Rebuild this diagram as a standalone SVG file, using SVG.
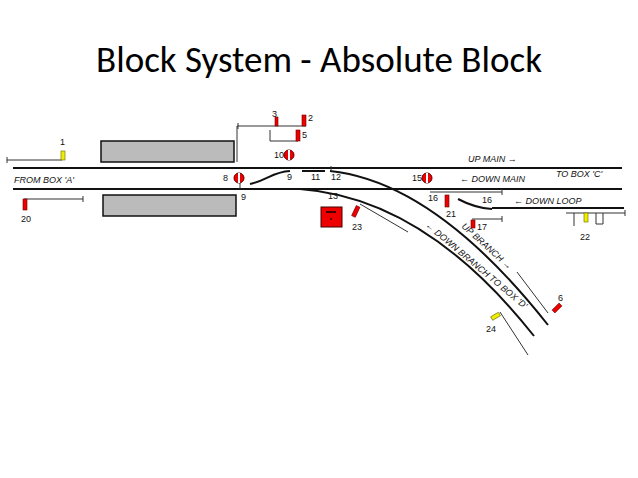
<svg xmlns="http://www.w3.org/2000/svg" width="638" height="478" viewBox="0 0 638 478">
<style>
.t{stroke:#111;stroke-width:2;fill:none}
.th{stroke:#333;stroke-width:1;fill:none}
.l{font-family:"Liberation Sans",Arial,sans-serif;font-size:9px;fill:#111;font-style:italic}
.n{font-family:"Liberation Sans",Arial,sans-serif;font-size:9px;fill:#111}
.r{fill:#e00;stroke:#600;stroke-width:.6}
.y{fill:#ee0;stroke:#660;stroke-width:.6}
.p{fill:#bbb;stroke:#111;stroke-width:1.5}
</style>
<rect width="638" height="478" fill="#fff"/>
<text x="319" y="72" text-anchor="middle" font-family="Carlito,'Open Sans','Liberation Sans',sans-serif" font-size="37" fill="#000">Block System - Absolute Block</text>
<g id="connectors">
<path class="t" d="M13,168H622M13,189H622"/>
<path class="t" d="M330,171 Q435,182 548,325"/>
<path class="t" d="M300,189 Q425,198 534,336"/>
<path class="t" d="M250,184 C268,180 272,172 290,171"/>
<path class="t" d="M302,171H325"/>
<path class="t" d="M492,208H624"/>
<path class="t" d="M458,199 Q475,208 492,209"/>
<path class="th" d="M7,160H62M7,157V163M24,199H83M83,196V202M237,126H306M237,126V162M238,123V129M270,141H298M270,130V141M360,204L408,232M440,192H502M502,189V195M430,192H440M472,219H502M502,216V222M517,272L548,313M500,312L528,355M566,213H625M625,210V216M331,166V171M240,183V189"/>
<path class="th" d="M574,213V226M596,213V224H603V213M586,213V222"/>
</g>
<g id="platforms"><rect class="p" x="101" y="141" width="133" height="21"/><rect class="p" x="103" y="195" width="133" height="21"/></g>
<g id="s1"><rect class="y" x="61" y="151" width="4" height="9"/><text class="n" x="60" y="145">1</text></g>
<g id="s20"><rect class="r" x="23" y="199" width="4" height="11"/><text class="n" x="21" y="222">20</text></g>
<g id="s3"><rect class="r" x="275" y="117" width="3" height="9"/><text class="n" x="272" y="117">3</text></g>
<g id="s2"><rect class="r" x="302" y="115" width="4" height="11"/><text class="n" x="308" y="121">2</text></g>
<g id="s5"><rect class="r" x="296" y="130" width="4" height="11"/><text class="n" x="302" y="138">5</text></g>
<g id="s10"><circle cx="289" cy="155" r="5" fill="#e00" stroke="#600"/><rect x="288" y="150" width="2" height="10" fill="#fff"/><text class="n" x="274" y="158">10</text></g>
<g id="s8"><circle cx="239" cy="178" r="5" fill="#e00" stroke="#600"/><rect x="238" y="173" width="2" height="10" fill="#fff"/><text class="n" x="223" y="181">8</text></g>
<g id="p9"><text class="n" x="287" y="180">9</text><text class="n" x="241" y="200">9</text></g>
<g id="p11"><text class="n" x="311" y="180">11</text><text class="n" x="331" y="180">12</text><text class="n" x="328" y="199">13</text></g>
<g id="box"><rect x="321" y="207" width="21" height="20" fill="#e00" stroke="#400"/><rect x="326" y="211" width="10" height="2" fill="#400"/><circle cx="331" cy="219" r="1" fill="#400"/></g>
<g id="s23"><rect class="r" x="354" y="206" width="4" height="11" transform="rotate(25 356 211)"/><text class="n" x="352" y="230">23</text></g>
<g id="s15"><circle cx="427" cy="178" r="5" fill="#e00" stroke="#600"/><rect x="426" y="173" width="2" height="10" fill="#fff"/><text class="n" x="412" y="181">15</text></g>
<g id="s16a"><text class="n" x="428" y="201">16</text></g>
<g id="s21"><rect class="r" x="445" y="195" width="4" height="12"/><text class="n" x="446" y="217">21</text></g>
<g id="s16b"><text class="n" x="482" y="203">16</text></g>
<g id="s17"><rect class="r" x="471" y="220" width="4" height="8"/><text class="n" x="477" y="230">17</text></g>
<g id="s22"><rect class="y" x="584" y="213" width="4" height="9"/><text class="n" x="580" y="240">22</text></g>
<g id="s6"><rect class="r" x="555" y="303" width="4" height="10" transform="rotate(45 557 308)"/><text class="n" x="558" y="301">6</text></g>
<g id="s24"><rect class="y" x="494" y="312" width="4" height="9" transform="rotate(60 496 316)"/><text class="n" x="486" y="332">24</text></g>
<g id="labels">
<text class="l" x="468" y="162">UP MAIN →</text>
<text class="l" x="460" y="182">← DOWN MAIN</text>
<text class="l" x="556" y="177">TO BOX 'C'</text>
<text class="l" x="514" y="204">← DOWN LOOP</text>
<text class="l" x="14" y="183">FROM BOX 'A'</text>
<text class="l" transform="translate(461,227) rotate(42)">UP BRANCH →</text>
<text class="l" transform="translate(425,226) rotate(40)">← DOWN BRANCH TO BOX 'D'</text>
</g>
</svg>
